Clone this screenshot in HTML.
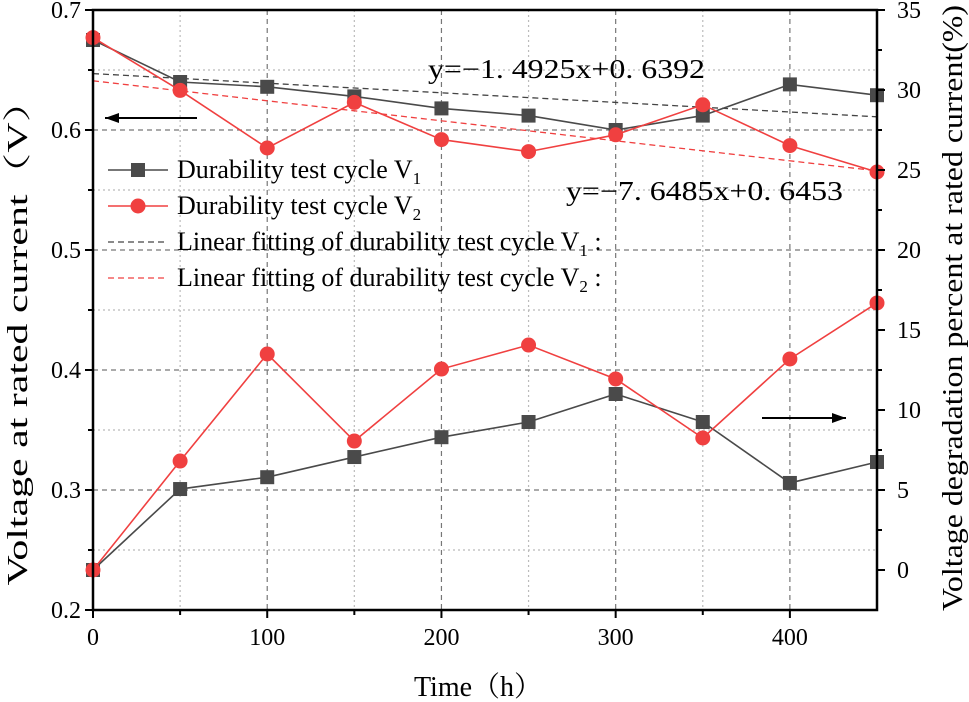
<!DOCTYPE html>
<html><head><meta charset="utf-8"><style>
html,body{margin:0;padding:0;background:#fff}
svg{display:block;font-family:"Liberation Serif","Noto Serif CJK SC",serif}
</style></head><body>
<svg id="c" width="969" height="702" viewBox="0 0 969 702"></svg>
<script>
const times=[0,50,100,150,200,250,300,350,400,450];
const v1=[0.675,0.640,0.636,0.628,0.618,0.612,0.600,0.612,0.638,0.629];
const v2=[0.677,0.633,0.585,0.623,0.592,0.582,0.596,0.621,0.587,0.565];
const d1=[0,5.06,5.8,7.06,8.3,9.25,11,9.25,5.44,6.75];
const d2=[0,6.81,13.5,8.06,12.56,14.06,11.94,8.25,13.19,16.69];
const fitSlope=[-0.0000800,-0.0001667];
const fitIntercept=[0.647,0.641];
const xTicks=[0,100,200,300,400];
const yTicks=[0.2,0.3,0.4,0.5,0.6,0.7];
const rTicks=[0,5,10,15,20,25,30,35];

const L=93,R=877,T=10,B=610;
const X=v=>L+(v/450)*(R-L);
const Y=v=>B-(v-0.2)/0.5*(B-T);
const YR=v=>570-v*16;
const svg=document.getElementById('c');
const NS='http://www.w3.org/2000/svg';
function el(tag,attrs,parent){const e=document.createElementNS(NS,tag);for(const k in attrs)e.setAttribute(k,attrs[k]);(parent||svg).appendChild(e);return e;}
function txt(s,attrs){const e=el('text',attrs);e.textContent=s;return e;}

// grid
for(let t=50;t<450;t+=50){const major=t%100===0;
 const g=el('line',{x1:X(t),x2:X(t),y1:T,y2:B,stroke:major?'#777':'#bbb','stroke-width':1.2,'stroke-dasharray':major?'5,4':'2,3'});
 }
for(let i=1;i<10;i++){const v=0.2+i*0.05;const major=i%2===0;
 const g=el('line',{x1:L,x2:R,y1:Y(v),y2:Y(v),stroke:major?'#777':'#bbb','stroke-width':1.2,'stroke-dasharray':major?'5,4':'2,3'});
 }

// fit lines
const fitColors=['#444','#f04040'];
fitSlope.forEach((s,i)=>{const l=el('line',{x1:X(0),y1:Y(fitIntercept[i]),x2:X(450),y2:Y(fitIntercept[i]+s*450),stroke:fitColors[i],'stroke-width':1.3,'stroke-dasharray':'6,4'});
 });

function series(vals,yf,color,shape,name){
 const p=el('polyline',{points:vals.map((v,i)=>X(times[i])+','+yf(v)).join(' '),fill:'none',stroke:color,'stroke-width':1.6});
 
 vals.forEach((v,i)=>{let m;
  if(shape==='sq')m=el('rect',{x:X(times[i])-7,y:yf(v)-7,width:14,height:14,fill:color});
  else m=el('circle',{cx:X(times[i]),cy:yf(v),r:7.5,fill:color});
  });
}
series(v1,Y,'#4a4a4a','sq','voltage-v1');
series(v2,Y,'#f04040','ci','voltage-v2');
series(d1,YR,'#4a4a4a','sq','degradation-v1');
series(d2,YR,'#f04040','ci','degradation-v2');

// frame
const f=el('rect',{x:L,y:T,width:R-L,height:B-T,fill:'none',stroke:'#000','stroke-width':2.5});


// ticks
xTicks.forEach(t=>{el('line',{x1:X(t),x2:X(t),y1:B,y2:B+8,stroke:'#000','stroke-width':2});
 const e=txt(t,{x:X(t),y:B+35,'text-anchor':'middle','font-size':24});});
for(let t=50;t<450;t+=100)el('line',{x1:X(t),x2:X(t),y1:B,y2:B+5,stroke:'#000','stroke-width':2});
yTicks.forEach(v=>{el('line',{x1:L-8,x2:L,y1:Y(v),y2:Y(v),stroke:'#000','stroke-width':2});
 const e=txt(v.toFixed(1),{x:L-12,y:Y(v)+8,'text-anchor':'end','font-size':24});});
for(let v=0.25;v<0.7;v+=0.1)el('line',{x1:L-5,x2:L,y1:Y(v),y2:Y(v),stroke:'#000','stroke-width':2});
rTicks.forEach(v=>{el('line',{x1:R,x2:R+8,y1:YR(v),y2:YR(v),stroke:'#000','stroke-width':2});
 const e=txt(v,{x:R+20,y:YR(v)+8,'font-size':24});});
for(let v=2.5;v<35;v+=5)el('line',{x1:R,x2:R+5,y1:YR(v),y2:YR(v),stroke:'#000','stroke-width':2});

// titles
let e=txt('Time（h）',{x:478,y:696,'text-anchor':'middle','font-size':28});
e=txt('Voltage at rated current（V）',{x:0,y:0,transform:'translate(27,333) rotate(-90)','text-anchor':'middle','font-size':28,textLength:505,lengthAdjust:'spacingAndGlyphs'});
e=txt('Voltage  degradation percent at rated current(%)',{x:0,y:0,transform:'translate(962,308) rotate(-90)','text-anchor':'middle','font-size':28,textLength:606,lengthAdjust:'spacingAndGlyphs'});

// equations
e=txt('y=−1. 4925x+0. 6392',{x:428,y:78,'font-size':27,textLength:277,lengthAdjust:'spacingAndGlyphs'});
e=txt('y=−7. 6485x+0. 6453',{x:566,y:200,'font-size':27,textLength:277,lengthAdjust:'spacingAndGlyphs'});

// arrows
function arrow(x1,x2,y,name){const a=el('line',{x1,x2,y1:y,y2:y,stroke:'#000','stroke-width':2});
 const d=x2<x1?-1:1;el('polygon',{points:`${x2},${y} ${x2-d*14},${y-5} ${x2-d*14},${y+5}`,fill:'#000'});}
arrow(197,105,118,'left-axis-arrow');
arrow(762,846,418,'right-axis-arrow');

// legend
const leg=[['Durability test cycle V','1','#4a4a4a','sq',false],['Durability test cycle V','2','#f04040','ci',false],
['Linear fitting of durability test cycle V','1','#444','',true],['Linear fitting of durability test cycle V','2','#f04040','',true]];
leg.forEach((l,i)=>{const y=170+i*36;
 const g=el('g',{});
 el('line',{x1:108,x2:168,y1:y,y2:y,stroke:l[2],'stroke-width':l[4]?1.3:1.6,'stroke-dasharray':l[4]?'6,4':'none'},g);
 if(l[3]==='sq')el('rect',{x:131,y:y-7,width:14,height:14,fill:l[2]},g);
 if(l[3]==='ci')el('circle',{cx:138,cy:y,r:7.5,fill:l[2]},g);
 const t=el('text',{x:177,y:y+8,'font-size':26},g);t.textContent=l[0];
 const s=el('tspan',{'font-size':17,dy:6},t);s.textContent=l[1];
 if(l[4]){const s2=el('tspan',{'font-size':26,dy:-6},t);s2.textContent=' :';}
});
</script>
</body></html>
